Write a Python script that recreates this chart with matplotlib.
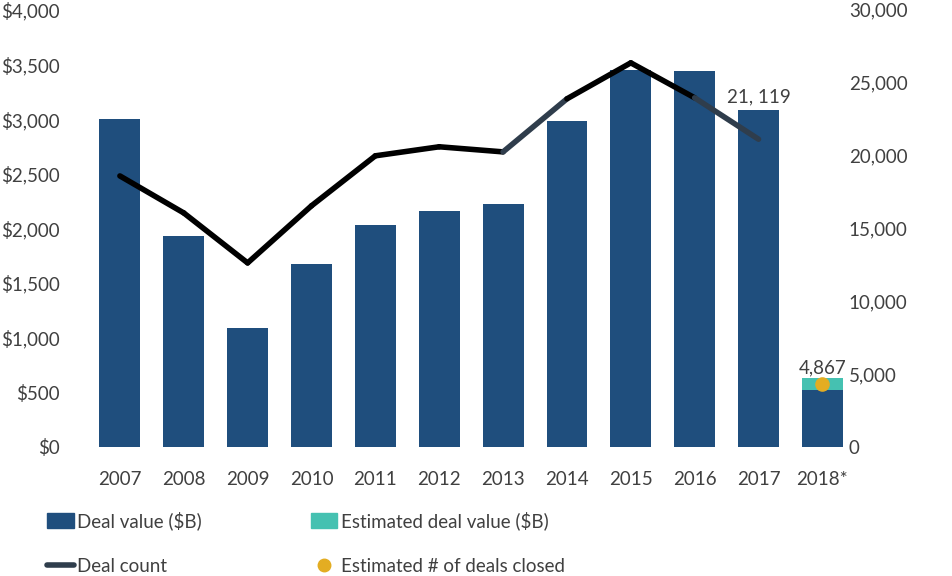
import matplotlib.pyplot as plt
from matplotlib.lines import Line2D
from matplotlib.patches import Patch

years = ["2007", "2008", "2009", "2010", "2011", "2012", "2013",
         "2014", "2015", "2016", "2017", "2018*"]
deal_value = [3002, 1931, 1089, 1675, 2032, 2160, 2224, 2984, 3451, 3442, 3085, 522]
est_value = [0, 0, 0, 0, 0, 0, 0, 0, 0, 0, 0, 110]
deal_count = [18600, 16060, 12630, 16550, 19980, 20600, 20250, 23890, 26360, 23960, 21119]
est_deals = 4300

plt.rcParams["font.family"] = ["Lato", "DejaVu Sans"]
text_color = "#404040"
bar_color = "#1f4e7d"
teal = "#45c1b1"
orange = "#e3ad22"
slate = "#2f3d4c"

fig = plt.figure(figsize=(9.52, 5.76), dpi=100)
ax = fig.add_axes([0.0924, 0.224, 0.805, 0.759])
x = list(range(len(years)))

ax.bar(x, deal_value, width=0.64, color=bar_color, zorder=2)
ax.bar(x, est_value, width=0.64, bottom=deal_value, color=teal, zorder=2)
ax.set_ylim(0, 4000)
ax.set_yticks(range(0, 4001, 500))
ax.set_yticklabels(["${:,}".format(v) for v in range(0, 4001, 500)])
ax.set_xlim(-0.5, len(years) - 0.5)
ax.set_xticks(x)
ax.set_xticklabels(years)

ax2 = ax.twinx()
ax2.set_ylim(0, 30000)
ax2.set_yticks(range(0, 30001, 5000))
ax2.set_yticklabels(["{:,}".format(v) for v in range(0, 30001, 5000)])
# line segments: mostly black, a couple drawn in dark slate like the original
n = len(deal_count)
for i in range(n - 1):
    c = slate if i in (6, 9) else "black"
    ax2.plot(x[i:i + 2], deal_count[i:i + 2], color=c, lw=4,
             solid_capstyle="round", zorder=3)
ax2.scatter([x[-1]], [est_deals], s=90, color=orange, zorder=4)

ax2.text(x[10], deal_count[10] + 2300, "21, 119", ha="center", va="bottom",
         fontsize=13.5, color=text_color)
ax.text(x[11], deal_value[11] + est_value[11] + 15, "4,867", ha="center",
        va="bottom", fontsize=13.5, color=text_color)

for a in (ax, ax2):
    for s in a.spines.values():
        s.set_visible(False)
    a.tick_params(length=0, labelsize=13.5, labelcolor=text_color)
ax.tick_params(axis="y", pad=20)
ax.tick_params(axis="x", pad=17)
ax2.tick_params(axis="y", pad=-4)

handles = [Patch(color=bar_color), Line2D([], [], color=slate, lw=4, solid_capstyle="round"),
           Patch(color=teal), Line2D([], [], ls="none", marker="o", ms=9, color=orange)]
labels = ["Deal value ($B)", "Deal count", "Estimated deal value ($B)",
          "Estimated # of deals closed"]
fig.legend(handles, labels, ncol=2, loc="upper left", bbox_to_anchor=(0.032, 0.142),
           frameon=False, fontsize=13.5, labelcolor=text_color, handlelength=1.4,
           handleheight=0.9, handletextpad=0.2, columnspacing=5.8, labelspacing=1.5)

fig.savefig("out.png", dpi=100)
